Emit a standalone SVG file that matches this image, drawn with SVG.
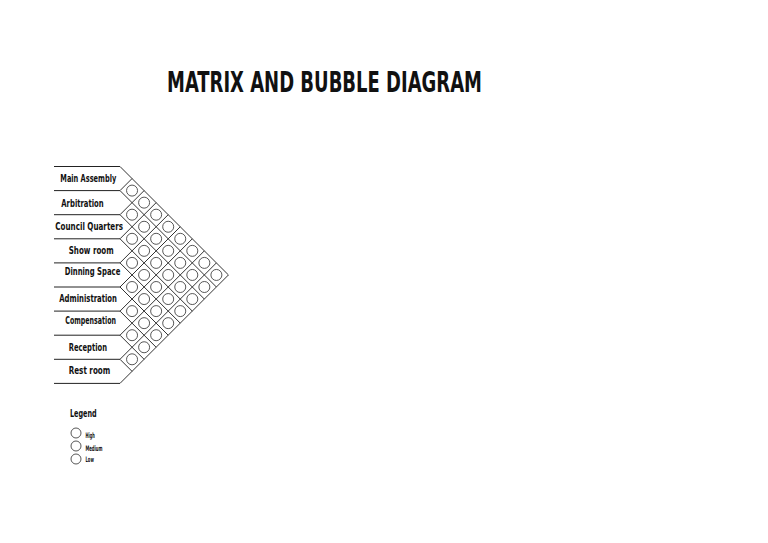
<svg xmlns="http://www.w3.org/2000/svg" width="768" height="543" viewBox="0 0 768 543">
<style>
  .bg { fill: #ffffff; }
  .title { font-family: "DejaVu Sans Condensed", "DejaVu Sans", "Liberation Sans", sans-serif; font-weight: bold; font-size: 27.5px; fill: #111; }
  .lbl { font-family: "DejaVu Sans Condensed", "DejaVu Sans", "Liberation Sans", sans-serif; font-weight: bold; font-size: 9.8px; fill: #111; }
  .leg { font-family: "DejaVu Sans Condensed", "DejaVu Sans", "Liberation Sans", sans-serif; font-weight: bold; font-size: 7.5px; fill: #111; }
  .rule { stroke: #222; stroke-width: 1; fill: none; }
  .grid { stroke: #333; stroke-width: 1; fill: none; }
  .bub { stroke: #444; stroke-width: 0.9; fill: #fff; }
</style>
<rect class="bg" x="0" y="0" width="768" height="543"/>

<g id="title">
  <text class="title" x="167" y="92" textLength="315" lengthAdjust="spacingAndGlyphs">MATRIX AND BUBBLE DIAGRAM</text>
</g>

<g id="row-lines">
  <line class="rule" x1="54" y1="166.5" x2="120" y2="166.5"/>
  <line class="rule" x1="54" y1="190.6" x2="120" y2="190.6"/>
  <line class="rule" x1="54" y1="214.7" x2="120" y2="214.7"/>
  <line class="rule" x1="54" y1="238.8" x2="120" y2="238.8"/>
  <line class="rule" x1="54" y1="262.9" x2="120" y2="262.9"/>
  <line class="rule" x1="54" y1="287.0" x2="120" y2="287.0"/>
  <line class="rule" x1="54" y1="311.1" x2="120" y2="311.1"/>
  <line class="rule" x1="54" y1="335.2" x2="120" y2="335.2"/>
  <line class="rule" x1="54" y1="359.3" x2="120" y2="359.3"/>
  <line class="rule" x1="54" y1="383.4" x2="120" y2="383.4"/>
</g>

<g id="node-main-assembly"><text class="lbl" x="60.3" y="182" textLength="56" lengthAdjust="spacingAndGlyphs">Main Assembly</text></g>
<g id="node-arbitration"><text class="lbl" x="61.3" y="207" textLength="42.4" lengthAdjust="spacingAndGlyphs">Arbitration</text></g>
<g id="node-council-quarters"><text class="lbl" x="55.3" y="229.5" textLength="67.7" lengthAdjust="spacingAndGlyphs">Council Quarters</text></g>
<g id="node-show-room"><text class="lbl" x="68.7" y="254" textLength="45" lengthAdjust="spacingAndGlyphs">Show room</text></g>
<g id="node-dinning-space"><text class="lbl" x="64.7" y="275" textLength="55.6" lengthAdjust="spacingAndGlyphs">Dinning Space</text></g>
<g id="node-administration"><text class="lbl" x="59.3" y="302.3" textLength="57.7" lengthAdjust="spacingAndGlyphs">Administration</text></g>
<g id="node-compensation"><text class="lbl" x="65.3" y="324.3" textLength="50.7" lengthAdjust="spacingAndGlyphs">Compensation</text></g>
<g id="node-reception"><text class="lbl" x="68.7" y="351.3" textLength="38.3" lengthAdjust="spacingAndGlyphs">Reception</text></g>
<g id="node-rest-room"><text class="lbl" x="68.7" y="374" textLength="41.6" lengthAdjust="spacingAndGlyphs">Rest room</text></g>

<g id="connectors">
  <line class="grid" x1="120" y1="166.5" x2="228.45" y2="274.95"/>
  <line class="grid" x1="120" y1="190.6" x2="216.4" y2="287.0"/>
  <line class="grid" x1="120" y1="214.7" x2="204.35" y2="299.05"/>
  <line class="grid" x1="120" y1="238.8" x2="192.3" y2="311.1"/>
  <line class="grid" x1="120" y1="262.9" x2="180.25" y2="323.15"/>
  <line class="grid" x1="120" y1="287.0" x2="168.2" y2="335.2"/>
  <line class="grid" x1="120" y1="311.1" x2="156.15" y2="347.25"/>
  <line class="grid" x1="120" y1="335.2" x2="144.1" y2="359.3"/>
  <line class="grid" x1="120" y1="359.3" x2="132.05" y2="371.35"/>
  <line class="grid" x1="120" y1="190.6" x2="132.05" y2="178.55"/>
  <line class="grid" x1="120" y1="214.7" x2="144.1" y2="190.6"/>
  <line class="grid" x1="120" y1="238.8" x2="156.15" y2="202.65"/>
  <line class="grid" x1="120" y1="262.9" x2="168.2" y2="214.7"/>
  <line class="grid" x1="120" y1="287.0" x2="180.25" y2="226.75"/>
  <line class="grid" x1="120" y1="311.1" x2="192.3" y2="238.8"/>
  <line class="grid" x1="120" y1="335.2" x2="204.35" y2="250.85"/>
  <line class="grid" x1="120" y1="359.3" x2="216.4" y2="262.9"/>
  <line class="grid" x1="120" y1="383.4" x2="228.45" y2="274.95"/>
</g>

<g id="bubbles">
  <circle class="bub" cx="132.05" cy="190.6" r="5.5"/>
  <circle class="bub" cx="132.05" cy="214.7" r="5.5"/>
  <circle class="bub" cx="132.05" cy="238.8" r="5.5"/>
  <circle class="bub" cx="132.05" cy="262.9" r="5.5"/>
  <circle class="bub" cx="132.05" cy="287.0" r="5.5"/>
  <circle class="bub" cx="132.05" cy="311.1" r="5.5"/>
  <circle class="bub" cx="132.05" cy="335.2" r="5.5"/>
  <circle class="bub" cx="132.05" cy="359.3" r="5.5"/>
  <circle class="bub" cx="144.1" cy="202.65" r="5.5"/>
  <circle class="bub" cx="144.1" cy="226.75" r="5.5"/>
  <circle class="bub" cx="144.1" cy="250.85" r="5.5"/>
  <circle class="bub" cx="144.1" cy="274.95" r="5.5"/>
  <circle class="bub" cx="144.1" cy="299.05" r="5.5"/>
  <circle class="bub" cx="144.1" cy="323.15" r="5.5"/>
  <circle class="bub" cx="144.1" cy="347.25" r="5.5"/>
  <circle class="bub" cx="156.15" cy="214.7" r="5.5"/>
  <circle class="bub" cx="156.15" cy="238.8" r="5.5"/>
  <circle class="bub" cx="156.15" cy="262.9" r="5.5"/>
  <circle class="bub" cx="156.15" cy="287.0" r="5.5"/>
  <circle class="bub" cx="156.15" cy="311.1" r="5.5"/>
  <circle class="bub" cx="156.15" cy="335.2" r="5.5"/>
  <circle class="bub" cx="168.2" cy="226.75" r="5.5"/>
  <circle class="bub" cx="168.2" cy="250.85" r="5.5"/>
  <circle class="bub" cx="168.2" cy="274.95" r="5.5"/>
  <circle class="bub" cx="168.2" cy="299.05" r="5.5"/>
  <circle class="bub" cx="168.2" cy="323.15" r="5.5"/>
  <circle class="bub" cx="180.25" cy="238.8" r="5.5"/>
  <circle class="bub" cx="180.25" cy="262.9" r="5.5"/>
  <circle class="bub" cx="180.25" cy="287.0" r="5.5"/>
  <circle class="bub" cx="180.25" cy="311.1" r="5.5"/>
  <circle class="bub" cx="192.3" cy="250.85" r="5.5"/>
  <circle class="bub" cx="192.3" cy="274.95" r="5.5"/>
  <circle class="bub" cx="192.3" cy="299.05" r="5.5"/>
  <circle class="bub" cx="204.35" cy="262.9" r="5.5"/>
  <circle class="bub" cx="204.35" cy="287.0" r="5.5"/>
  <circle class="bub" cx="216.4" cy="274.95" r="5.5"/>
</g>

<g id="legend">
  <text class="lbl" x="70" y="417" textLength="26.7" lengthAdjust="spacingAndGlyphs">Legend</text>
  <circle class="bub" cx="76" cy="433" r="5"/>
  <circle class="bub" cx="76" cy="446" r="5"/>
  <circle class="bub" cx="76" cy="459" r="5"/>
  <text class="leg" x="85.5" y="438.3" textLength="9.3" lengthAdjust="spacingAndGlyphs">High</text>
  <text class="leg" x="85.5" y="451" textLength="17" lengthAdjust="spacingAndGlyphs">Medium</text>
  <text class="leg" x="85.5" y="462" textLength="8.3" lengthAdjust="spacingAndGlyphs">Low</text>
</g>
</svg>
